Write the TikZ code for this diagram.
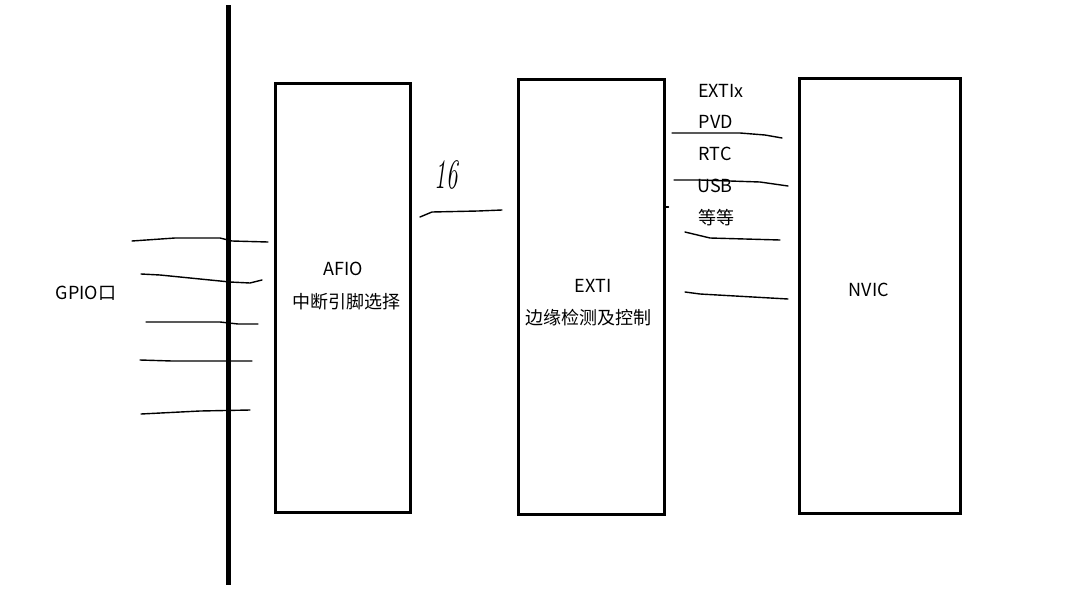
\documentclass[tikz,border=0pt]{standalone}
\usepackage{fontspec}
\setmainfont{Noto Sans CJK SC}
\newfontfamily\lmfont{Latin Modern Roman}
\begin{document}
\begin{tikzpicture}[x=1pt,y=-1pt,
  blk/.style={draw,line width=3pt,inner sep=0pt},
  lbl/.style={font=\fontsize{18}{21}\selectfont,inner sep=0pt},
  wire/.style={line width=1.4pt,line cap=round,line join=round}]
\useasboundingbox (0,0) rectangle (1076,597);
% bus line
\coordinate (bt) at (228,5);
\coordinate (bb) at (228,585);
\draw[line width=5pt] (bt) -- (bb);
% blocks
\node[blk,minimum width=135pt,minimum height=429pt] (afio) at (342.5,297.5) {};
\node[blk,minimum width=146pt,minimum height=435pt] (exti) at (591,296.5) {};
\node[blk,minimum width=161pt,minimum height=435pt] (nvic) at (879.5,295.5) {};
% texts
\node[lbl] (t1) at (343,269) {AFIO};
\node[lbl] (t2) at (346,302) {中断引脚选择};
\node[lbl] (t3) at (593,286) {EXTI};
\node[lbl] (t4) at (588,318) {边缘检测及控制};
\node[lbl] (t5) at (869,290) {NVIC};
\node[lbl] (gpio) at (86,293) {GPIO口};
\node[lbl] (l1) at (721,91) {EXTIx};
\node[lbl] (l2) at (716,122) {PVD};
\node[lbl] (l3) at (715,154) {RTC};
\node[lbl] (l4) at (715,186) {USB};
\node[lbl] (l5) at (716,218) {等等};
% GPIO lines
\draw[wire] (132,241) -- (175,238) -- (220,238) -- (232,241) -- (268,242);
\draw[wire] (141,274) -- (160,275) -- (230,282) -- (250,283) -- (262,280);
\draw[wire] (146,322) -- (220,322) -- (238,324) -- (258,324);
\draw[wire] (140,360) -- (172,361) -- (252,361);
\draw[wire] (141,414) -- (200,411) -- (250,410);
% 16 line
\draw[wire] (420,217) -- (432,212) -- (478,211) -- (502,210);
\node[font=\lmfont\itshape\fontsize{42}{42}\selectfont,inner sep=0pt,xscale=0.55] (n16) at (446,175) {16};
% small stub on EXTI edge
\draw[wire] (exti.east |- 0,207) -- ++(3,0);
% right lines
\draw[wire] (672,133) -- (740,133) -- (765,135) -- (782,138);
\draw[wire] (674,180) -- (700,180) -- (760,182) -- (788,186);
\draw[wire] (685,232) -- (710,238) -- (780,240);
\draw[wire] (685,292) -- (700,294) -- (788,299);
\end{tikzpicture}
\end{document}
